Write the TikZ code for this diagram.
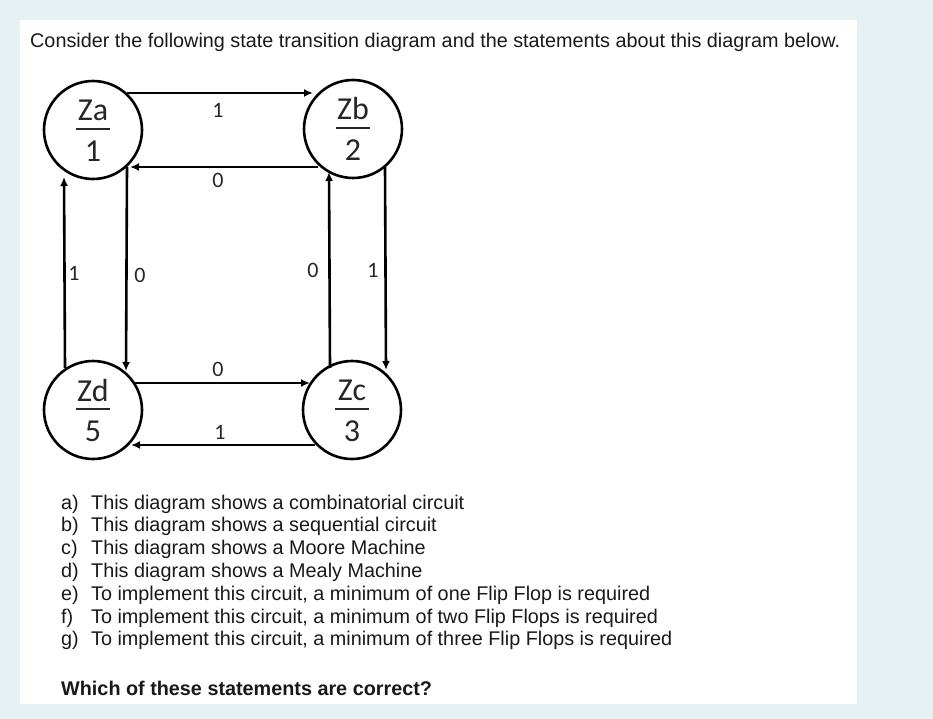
\documentclass[tikz,border=0pt]{standalone}
\usepackage{fontspec}
\setmainfont{Liberation Sans}
\newfontfamily\diag{Carlito}
\definecolor{bgc}{HTML}{E6F1F4}
\usetikzlibrary{arrows.meta}
\begin{document}
\begin{tikzpicture}[x=1pt,y=-1pt,
  st/.style={circle,draw,line width=2.6pt,minimum size=98pt,inner sep=0pt},
  tr/.style={draw,line width=2.6pt,-{Latex[length=9pt,width=8pt]}},
  lab/.style={font=\diag\fontsize{22}{22}\selectfont,text=black!85},
  nm/.style={font=\diag\fontsize{32}{32}\selectfont,text=black!85},
  txt/.style={anchor=base west,inner sep=0pt,font=\fontsize{19.8}{20}\selectfont,text=black!90}]
\fill[bgc] (0,0) rectangle (933,719);
\fill[white] (20,20) rectangle (857,704);
\useasboundingbox (0,0) rectangle (933,719);
\node[txt] (q) at (30,48) {Consider the following state transition diagram and the statements about this diagram below.};
\foreach \n/\t/\o/\x/\y in {za/Za/1/93/130, zb/Zb/2/353/129, zc/Zc/3/352/410, zd/Zd/5/93/410}{
  \node[st] (\n) at (\x,\y) {};
  \node[nm] (\n t) at ([yshift=20pt]\n.center) {\t};
  \node[nm] (\n o) at ([yshift=-21pt]\n.center) {\o};
  \draw[line width=2.8pt,black!85] ([xshift=-17pt,yshift=1pt]\n.center) -- ([xshift=17pt,yshift=1pt]\n.center);
}
% Za-Zb
\coordinate (a1) at (127,93); \coordinate (b1) at (313,93);
\draw[tr] (a1) -- (b1); \node[lab] (l1) at (218,110) {1};
\coordinate (b2) at (318,167); \coordinate (a2) at (130,167);
\draw[tr] (b2) -- (a2); \node[lab] (l2) at (218,180) {0};
% left
\coordinate (d1) at (65,368); \coordinate (a3) at (64,177);
\draw[tr] (d1) -- (a3); \node[lab] (l3) at (74,273) {1};
\coordinate (a4) at (127,167); \coordinate (d2) at (126,371);
\draw[tr] (a4) -- (d2); \node[lab] (l4) at (140,275) {0};
% right
\coordinate (c1) at (330,368); \coordinate (b3) at (329,172);
\draw[tr] (c1) -- (b3); \node[lab] (l5) at (313,270) {0};
\coordinate (b4) at (385,167); \coordinate (c2) at (386,370);
\draw[tr] (b4) -- (c2); \node[lab] (l6) at (373,270) {1};
% bottom
\coordinate (d3) at (135,383); \coordinate (c3) at (310,383);
\draw[tr] (d3) -- (c3); \node[lab] (l7) at (218,369) {0};
\coordinate (c4) at (315,445); \coordinate (d4) at (131,445);
\draw[tr] (c4) -- (d4); \node[lab] (l8) at (220,432) {1};
% list
\foreach \i/\l/\t in {0/a)/This diagram shows a combinatorial circuit,
 1/b)/This diagram shows a sequential circuit,
 2/c)/This diagram shows a Moore Machine,
 3/d)/This diagram shows a Mealy Machine,
 4/e)/{To implement this circuit, a minimum of one Flip Flop is required},
 5/f)/{To implement this circuit, a minimum of two Flip Flops is required},
 6/g)/{To implement this circuit, a minimum of three Flip Flops is required}}{
  \node[txt] (m\i) at (61,509+22.8*\i) {\l};
  \node[txt] (t\i) at (91,509+22.8*\i) {\t};
}
\node[txt,font=\bfseries\fontsize{19.8}{20}\selectfont] (w) at (61,695) {Which of these statements are correct?};
\end{tikzpicture}
\end{document}
